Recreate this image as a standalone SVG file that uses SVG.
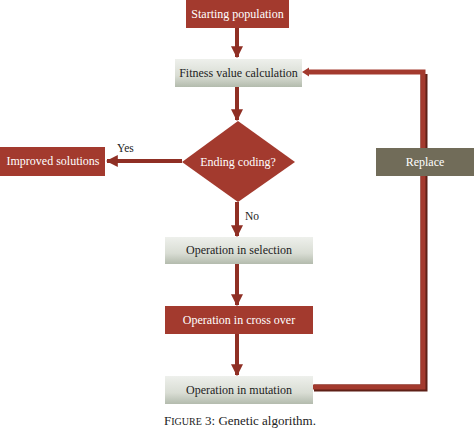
<svg xmlns="http://www.w3.org/2000/svg" width="474" height="430" viewBox="0 0 474 430">
<defs>
<linearGradient id="gray" x1="0" y1="0" x2="0" y2="1">
<stop offset="0" stop-color="#eef0ec"/>
<stop offset="0.6" stop-color="#d9ddd4"/>
<stop offset="1" stop-color="#b3bbad"/>
</linearGradient>
<marker id="ah" viewBox="0 0 10 10" refX="9" refY="5" markerWidth="3" markerHeight="3" orient="auto" markerUnits="strokeWidth">
<path d="M0,0 L10,5 L0,10 Z" fill="#8f2f24"/>
</marker>
<style>
.red{fill:#a33a2e}
.gr{fill:url(#gray)}
.olive{fill:#716c59}
text{font-family:'Liberation Serif',serif}
.wt{font-size:12px;fill:#ffffff;text-anchor:middle}
.dt{font-size:12px;fill:#222222;text-anchor:middle}
.lb{font-size:11.5px;fill:#222222}
.c{fill:none;stroke:#8f2f24;stroke-width:4}
.sh{fill:none;stroke:#5e1f16;stroke-width:7}
.fb{fill:none;stroke:#a33a2e;stroke-width:5}
</style>
</defs>
<g id="connectors">
<line class="c" x1="237" y1="28" x2="237" y2="57" marker-end="url(#ah)"/>
<line class="c" x1="237" y1="87" x2="237" y2="120" marker-end="url(#ah)"/>
<line class="c" x1="182" y1="161" x2="107" y2="161" marker-end="url(#ah)"/>
<line class="c" x1="237" y1="202" x2="237" y2="236" marker-end="url(#ah)"/>
<line class="c" x1="237" y1="264" x2="237" y2="305" marker-end="url(#ah)"/>
<line class="c" x1="237" y1="334" x2="237" y2="375" marker-end="url(#ah)"/>
<polyline class="sh" points="314,388 424,388 424,74"/>
<polyline class="fb" points="313,387 423,387 423,72 307,72"/>
<path d="M302,72 L309,67.5 L309,76.5 Z" fill="#a33a2e"/>
<text class="lb" x="117" y="152" font-family="Liberation Serif, serif">Yes</text>
<text class="lb" x="245" y="220" font-family="Liberation Serif, serif">No</text>
</g>
<g id="start" font-family="Liberation Serif, serif">
<rect class="red" x="186" y="0" width="103" height="28"/>
<text class="wt" x="237.5" y="18">Starting population</text>
</g>
<g id="fitness" font-family="Liberation Serif, serif">
<rect class="gr" x="175" y="59" width="127" height="28"/>
<text class="dt" x="238.5" y="77">Fitness value calculation</text>
</g>
<g id="ending" font-family="Liberation Serif, serif">
<polygon class="red" points="238,121 295,162 238,202 182,162"/>
<text class="wt" x="238" y="166">Ending coding?</text>
</g>
<g id="improved" font-family="Liberation Serif, serif">
<rect class="red" x="0" y="147" width="105" height="29"/>
<text class="wt" x="53" y="165">Improved solutions</text>
</g>
<g id="replace" font-family="Liberation Serif, serif">
<rect class="olive" x="376" y="148" width="98" height="28"/>
<text class="wt" x="425" y="166">Replace</text>
</g>
<g id="selection" font-family="Liberation Serif, serif">
<rect class="gr" x="165" y="237" width="148" height="27"/>
<text class="dt" x="239" y="254">Operation in selection</text>
</g>
<g id="crossover" font-family="Liberation Serif, serif">
<rect class="red" x="165" y="306" width="148" height="28"/>
<text class="wt" x="239" y="324">Operation in cross over</text>
</g>
<g id="mutation" font-family="Liberation Serif, serif">
<rect class="gr" x="165" y="376" width="148" height="28"/>
<text class="dt" x="239" y="394">Operation in mutation</text>
</g>
<text x="164" y="425" font-family="Liberation Serif, serif" font-size="13" fill="#222222">F<tspan font-size="10">IGURE</tspan> 3: Genetic algorithm.</text>
</svg>
